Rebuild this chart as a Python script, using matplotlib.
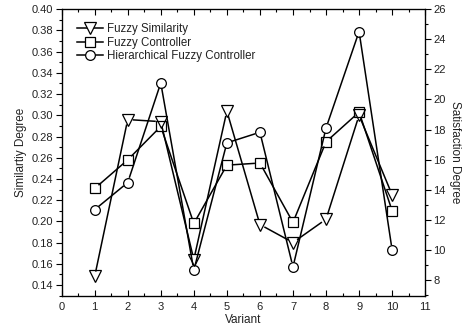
import numpy as np
import matplotlib
matplotlib.use("Agg")
from matplotlib import pyplot as plt
from matplotlib.lines import Line2D
from matplotlib.ticker import MultipleLocator

plt.rcParams['font.family'] = ['Liberation Sans', 'DejaVu Sans']

variant = [1, 2, 3, 4, 5, 6, 7, 8, 9, 10]
fuzzy_similarity = [0.148, 0.296, 0.294, 0.164, 0.304, 0.197, 0.180, 0.202, 0.300, 0.225]
fuzzy_controller = [0.231, 0.258, 0.2895, 0.198, 0.253, 0.255, 0.199, 0.275, 0.303, 0.210]
hierarchical = [0.211, 0.2366, 0.3305, 0.154, 0.274, 0.284, 0.157, 0.288, 0.379, 0.173]

series = [
    ("Fuzzy Similarity", fuzzy_similarity, 'v', 8.5),
    ("Fuzzy Controller", fuzzy_controller, 's', 6.5),
    ("Hierarchical Fuzzy Controller", hierarchical, 'o', 7.0),
]

TXT = '#222222'
fig = plt.figure(figsize=(4.74, 3.30), dpi=100)
ax = fig.add_axes([0.130, 0.103, 0.767, 0.869])
ax.set_xlim(0, 11)
ax.set_ylim(0.1296, 0.40)


def gapped(ax, xs, ys, gap):
    # shorten every segment by `gap` pixels at both ends, like Origin's gap-to-symbol
    pts = ax.transData.transform(np.column_stack([xs, ys]))
    inv = ax.transData.inverted()
    for p, q in zip(pts[:-1], pts[1:]):
        d = q - p
        n = np.hypot(*d)
        if n <= 2 * gap:
            continue
        u = d / n
        a, b = inv.transform([p + u * gap, q - u * gap])
        ax.plot([a[0], b[0]], [a[1], b[1]], color='black', lw=1.1,
                solid_capstyle='butt', zorder=2)


handles = []
for name, vals, mk, ms in series:
    gapped(ax, variant, vals, 5.0)
    ax.plot(variant, vals, linestyle='none', marker=mk, markersize=ms,
            markerfacecolor='none', markeredgecolor='black', markeredgewidth=0.9,
            zorder=3)
    handles.append(Line2D([], [], color='black', lw=1.1, marker=mk, markersize=ms,
                          markerfacecolor='white', markeredgecolor='black',
                          markeredgewidth=0.9, label=name))

ax.xaxis.set_major_locator(MultipleLocator(1))
ax.xaxis.set_minor_locator(MultipleLocator(0.5))
ax.yaxis.set_major_locator(MultipleLocator(0.02))
ax.yaxis.set_minor_locator(MultipleLocator(0.01))
ax.yaxis.set_major_formatter(plt.FormatStrFormatter('%.2f'))
ax.tick_params(axis='x', which='both', direction='in', top=True, colors='black',
               labelcolor=TXT, labelsize=8, width=0.8, pad=4)
ax.tick_params(axis='x', which='major', length=4)
ax.tick_params(axis='x', which='minor', length=2)
ax.tick_params(axis='y', which='both', direction='out', colors='black',
               labelcolor=TXT, labelsize=8, width=0.8, pad=2)
ax.tick_params(axis='y', which='major', length=4)
ax.tick_params(axis='y', which='minor', length=2)
for s in ax.spines.values():
    s.set_linewidth(0.9)

ax.set_xlabel("Variant", fontsize=8.5, color=TXT, labelpad=2)
ax.set_ylabel("Similartiy Degree", fontsize=8.5, color=TXT, labelpad=3)

ax2 = ax.twinx()
ax2.set_ylim(6.93, 26)
ax2.yaxis.set_major_locator(MultipleLocator(2))
ax2.yaxis.set_minor_locator(MultipleLocator(1))
ax2.tick_params(axis='y', which='both', direction='out', colors='black',
                labelcolor=TXT, labelsize=8, width=0.8, pad=2)
ax2.tick_params(axis='y', which='major', length=4)
ax2.tick_params(axis='y', which='minor', length=2)
ax2.set_ylabel("Satisfaction Degree", fontsize=8.5, color=TXT, rotation=270, labelpad=11)

ax.legend(handles=handles, loc='upper left', bbox_to_anchor=(0.029, 0.968),
          frameon=False, fontsize=8.3, handlelength=2.3, handletextpad=0.35,
          labelspacing=0.15, borderaxespad=0, borderpad=0.4, labelcolor=TXT)

fig.savefig("out.png", dpi=100)
